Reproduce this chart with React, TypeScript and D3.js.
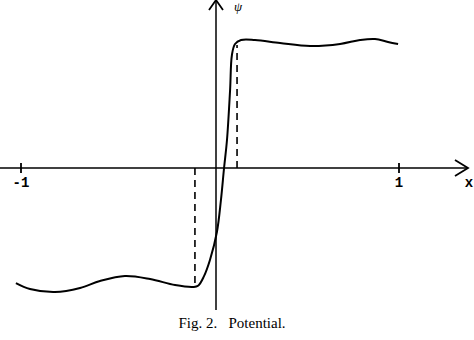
import React from "react";
import * as d3 from "d3";

const W = 474;
const H = 340;

// Potential curve psi(x)
const curveX = [-1.026, -0.954, -0.826, -0.697, -0.595, -0.467, -0.338, -0.21, -0.118, -0.092, -0.062, -0.031, 0.005, 0.027, 0.044, 0.06, 0.077, 0.087, 0.104, 0.137, 0.213, 0.35, 0.514, 0.678, 0.787, 0.869, 0.94, 0.995];
const curvePsi = [-0.913, -0.96, -0.984, -0.952, -0.897, -0.857, -0.881, -0.929, -0.944, -0.935, -0.86, -0.73, -0.508, -0.254, 0, 0.222, 0.619, 0.897, 0.984, 1.016, 1.016, 0.992, 0.968, 0.984, 1.016, 1.024, 1.0, 0.984];

// dashed markers
const dashX = [-0.108, 0.115];
const dashPsi = [-0.94, 0.976];

const tickValues = [-1, 1];
const tickLabels = ["-1", "1"];

const xAxisExtent = [-1.108, 1.377];
const psiAxisExtent = [-1.127, 1.333];

export default function App() {
  const x = d3.scaleLinear().domain([-1, 0, 1]).range([21, 216, 399]);
  const y = d3.scaleLinear().domain([0, 1]).range([168, 42]);

  const pts: [number, number][] = curveX.map((v, i) => [v, curvePsi[i]]);
  const line = d3
    .line<[number, number]>()
    .x((d) => x(d[0]))
    .y((d) => y(d[1]))
    .curve(d3.curveCatmullRom.alpha(0.5));

  const x0 = x(xAxisExtent[0]);
  const x1 = x(xAxisExtent[1]);
  const yTop = y(psiAxisExtent[1]);
  const yBot = y(psiAxisExtent[0]);
  const ax = x(0);
  const ay = y(0);

  return (
    <svg
      width={W}
      height={H}
      style={{ position: "absolute", left: 0, top: 0, background: "#fff" }}
    >
      {/* horizontal axis */}
      <line x1={x0} x2={x1} y1={ay} y2={ay} stroke="#000" strokeWidth={1.5} />
      <path
        d={`M${x1 - 13},${ay - 8} L${x1},${ay} L${x1 - 13},${ay + 8}`}
        fill="none"
        stroke="#000"
        strokeWidth={1.8}
      />
      {/* vertical axis */}
      <line x1={ax} x2={ax} y1={yTop} y2={yBot} stroke="#000" strokeWidth={1.5} />
      <path
        d={`M${ax - 7},${yTop + 10} L${ax},${yTop} L${ax + 7},${yTop + 10}`}
        fill="none"
        stroke="#000"
        strokeWidth={1.8}
      />
      {/* ticks */}
      {tickValues.map((t, i) => (
        <g key={i}>
          <line x1={x(t)} x2={x(t)} y1={ay - 5} y2={ay + 5} stroke="#000" strokeWidth={1.8} />
          <text
            x={x(t)}
            y={ay + 19}
            textAnchor="middle"
            fontFamily="'Liberation Mono', monospace"
            fontSize={14}
            fontWeight="bold"
            fill="#000"
          >
            {tickLabels[i]}
          </text>
        </g>
      ))}
      <text x={469} y={ay + 19} textAnchor="middle" fontFamily="'Liberation Mono', monospace" fontSize={14} fontWeight="bold" fill="#000">
        x
      </text>
      <text x={238} y={11} textAnchor="middle" fontFamily="'Liberation Serif', serif" fontStyle="italic" fontSize={13} fill="#000">
        ψ
      </text>
      {/* dashed markers */}
      {dashX.map((d, i) => (
        <line
          key={i}
          x1={x(d)}
          x2={x(d)}
          y1={ay}
          y2={y(dashPsi[i])}
          stroke="#000"
          strokeWidth={1.6}
          strokeDasharray="7,5"
        />
      ))}
      {/* curve */}
      <path d={line(pts) || ""} fill="none" stroke="#000" strokeWidth={2} />
      {/* caption */}
      <text
        x={232}
        y={328}
        textAnchor="middle"
        fontFamily="'Liberation Serif', serif"
        fontSize={15}
        fill="#000"
      >
        Fig. 2.{"\u00a0\u00a0\u00a0"}Potential.
      </text>
    </svg>
  );
}
